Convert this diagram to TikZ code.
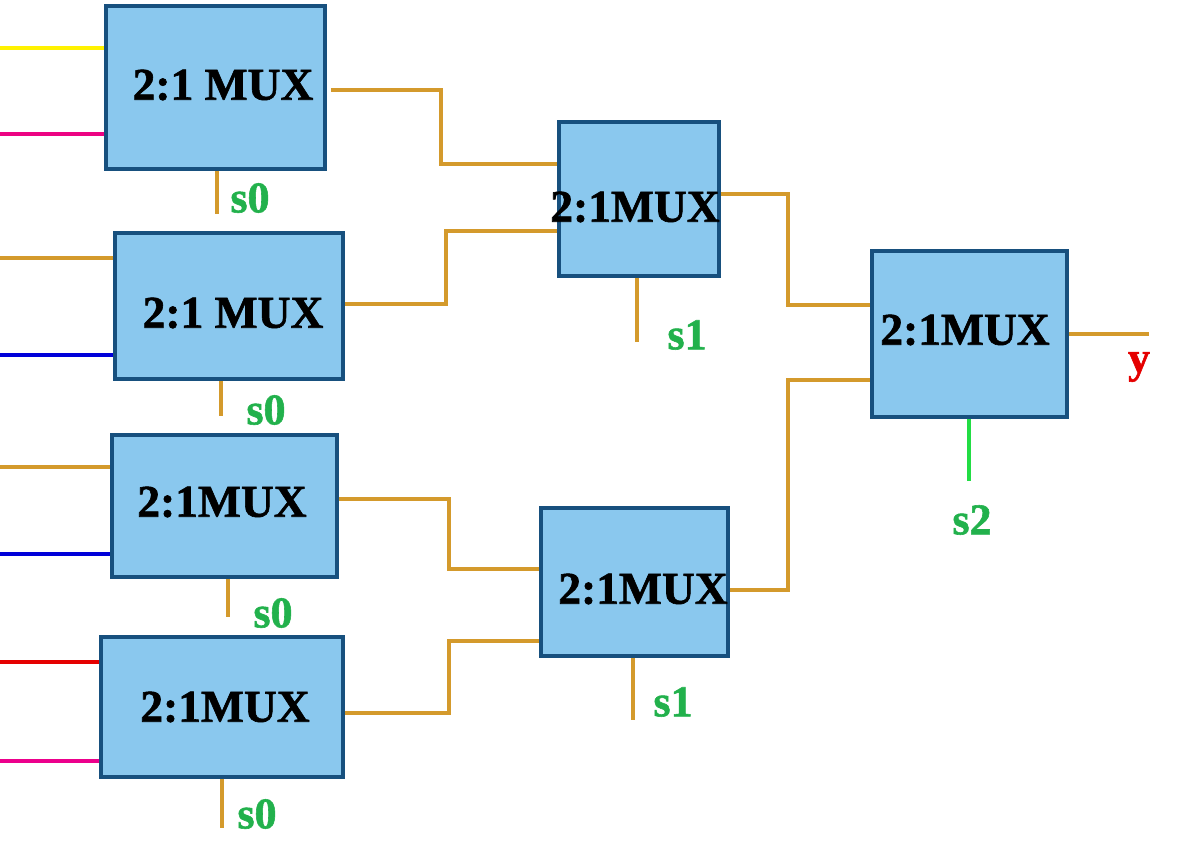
\documentclass[tikz,border=0pt]{standalone}
\usepackage{fontspec}
\setmainfont{Liberation Serif}[BoldFeatures={FakeBold=1.3}]
\usepackage{xcolor}
\usetikzlibrary{positioning}
\definecolor{muxfill}{HTML}{8AC8EE}
\definecolor{muxline}{HTML}{17507E}
\definecolor{wirecol}{HTML}{D49A2C}
\definecolor{selcol}{HTML}{22B14C}
\definecolor{selwire}{HTML}{22DD44}

\begin{document}
\begin{tikzpicture}[x=1pt,y=-1pt,
  mux/.style={draw=muxline,line width=3.6pt,fill=muxfill,inner sep=0pt},
  muxtext/.style={font=\fontsize{45.5}{50}\selectfont\bfseries,text=black,inner sep=0pt},
  wire/.style={draw=wirecol,line width=4.4pt},
  seltext/.style={font=\fontsize{44}{48}\selectfont\bfseries,text=selcol,inner sep=0pt}]
  \useasboundingbox (0,0) rectangle (1184,864);
  \node[mux,minimum width=219,minimum height=163] (ma) at (215.5,87.5) {};
  \node[mux,minimum width=228,minimum height=146] (mb) at (229,306) {};
  \node[mux,minimum width=225,minimum height=142] (mc) at (224.5,506) {};
  \node[mux,minimum width=242,minimum height=140] (md) at (222,707) {};
  \node[mux,minimum width=160,minimum height=154] (me) at (639,199) {};
  \node[mux,minimum width=187,minimum height=148] (mf) at (634.5,582) {};
  \node[mux,minimum width=195,minimum height=166] (mg) at (969.5,334) {};
  \node[muxtext] (ta) at (223,85) {2:1 MUX};
  \node[muxtext] (tb) at (233,313) {2:1 MUX};
  \node[muxtext] (tc) at (222,502) {2:1MUX};
  \node[muxtext] (td) at (225,707) {2:1MUX};
  \node[muxtext] (te) at (635,207) {2:1MUX};
  \node[muxtext] (tf) at (643,589) {2:1MUX};
  \node[muxtext] (tg) at (965,330) {2:1MUX};
  % inputs
  \coordinate (ia) at (0,48);\coordinate (ib) at (0,134);
  \coordinate (ic) at (0,258);\coordinate (id) at (0,355);
  \coordinate (ie) at (0,467);\coordinate (if) at (0,554);
  \coordinate (ig) at (0,662);\coordinate (ih) at (0,761);
  \draw[wire,draw=yellow] (ia)--(ia-|ma.west);
  \draw[wire,draw=magenta!90!red] (ib)--(ib-|ma.west);
  \draw[wire] (ic)--(ic-|mb.west);
  \draw[wire,draw=blue!85!black] (id)--(id-|mb.west);
  \draw[wire] (ie)--(ie-|mc.west);
  \draw[wire,draw=blue!85!black] (if)--(if-|mc.west);
  \draw[wire,draw=red!90!black] (ig)--(ig-|md.west);
  \draw[wire,draw=magenta] (ih)--(ih-|md.west);
  % first stage to second stage
  \draw[wire] ([xshift=4,yshift=-2.5]ma.east)-|(441,130)|-([yshift=35]me.west);
  \draw[wire] ([yshift=2]mb.east)-|(446,270)|-([yshift=-32]me.west);
  \draw[wire] ([yshift=7]mc.east)-|(449,530)|-([yshift=13]mf.west);
  \draw[wire] ([yshift=-6]md.east)-|(449,680)|-([yshift=-59]mf.west);
  % second stage to last
  \draw[wire] ([yshift=5]me.east)-|(788,250)|-([yshift=29]mg.west);
  \draw[wire] ([yshift=-8]mf.east)-|(788,490)|-([yshift=-46]mg.west);
  \coordinate (yend) at (1149,334);
  \draw[wire] (mg.east)--(yend);
  % select lines
  \coordinate (sa) at (217,214);\coordinate (sb) at (221,416);
  \coordinate (sc) at (228,617);\coordinate (sd) at (222,828);
  \coordinate (se) at (637,342);\coordinate (sf) at (633,720);
  \coordinate (sg) at (969,481);
  \draw[wire] (ma.south-|sa)--(sa);
  \draw[wire] (mb.south-|sb)--(sb);
  \draw[wire] (mc.south-|sc)--(sc);
  \draw[wire] (md.south-|sd)--(sd);
  \draw[wire] (me.south-|se)--(se);
  \draw[wire] (mf.south-|sf)--(sf);
  \draw[wire,draw=selwire] (mg.south-|sg)--(sg);
  \node[seltext] (la) at (250,198) {s0};
  \node[seltext] (lb) at (266,410) {s0};
  \node[seltext] (lc) at (273,613) {s0};
  \node[seltext] (ld) at (257,814) {s0};
  \node[seltext] (le) at (687,335) {s1};
  \node[seltext] (lf) at (673,702) {s1};
  \node[seltext] (lg) at (972,520) {s2};
  \node[seltext,text=red!90!black] (ly) at (1139,367) {y};
\end{tikzpicture}
\end{document}
